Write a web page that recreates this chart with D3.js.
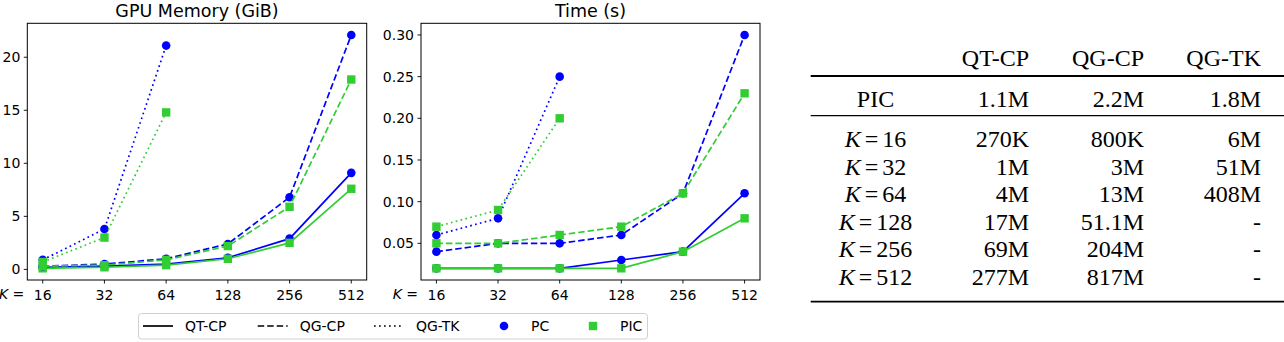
<!DOCTYPE html>
<html><head><meta charset="utf-8">
<script src="https://cdn.jsdelivr.net/npm/d3@7"></script>
<style>body{margin:0;background:#fff}svg{display:block}</style>
</head><body><svg id="c" width="1284" height="342"></svg>
<script>
// ---------- data ----------
const kLabels = ["16","32","64","128","256","512"];
const methods = ["QT-CP","QG-CP","QG-TK"];
const variants = ["PC","PIC"];

// GPU memory (GiB)
const memQTCP_PC  = [0.2, 0.3, 0.5, 1.1, 2.9, 9.1];
const memQTCP_PIC = [0.1, 0.2, 0.4, 1.0, 2.5, 7.6];
const memQGCP_PC  = [0.3, 0.5, 1.0, 2.4, 6.8, 22.1];
const memQGCP_PIC = [0.3, 0.4, 0.9, 2.2, 5.9, 17.9];
const memQGTK_PC  = [0.9, 3.8, 21.1];
const memQGTK_PIC = [0.7, 3.0, 14.8];

// Time (s)
const timeQTCP_PC  = [0.02, 0.02, 0.02, 0.03, 0.04, 0.11];
const timeQTCP_PIC = [0.02, 0.02, 0.02, 0.02, 0.04, 0.08];
const timeQGCP_PC  = [0.04, 0.05, 0.05, 0.06, 0.11, 0.30];
const timeQGCP_PIC = [0.05, 0.05, 0.06, 0.07, 0.11, 0.23];
const timeQGTK_PC  = [0.06, 0.08, 0.25];
const timeQGTK_PIC = [0.07, 0.09, 0.20];

const memTicks  = [0, 5, 10, 15, 20];
const timeTicks = [0.05, 0.10, 0.15, 0.20, 0.25, 0.30];

// table
const tableCols   = ["QT-CP","QG-CP","QG-TK"];
const tablePIC    = ["1.1M","2.2M","1.8M"];
const tableKs     = ["16","32","64","128","256","512"];
const tableQTCP   = ["270K","1M","4M","17M","69M","277M"];
const tableQGCP   = ["800K","3M","13M","51.1M","204M","817M"];
const tableQGTK   = ["6M","51M","408M","-","-","-"];

// ---------- styles ----------
const colors = {PC:"#0000ff", PIC:"#32cd32"};
const dashes = {"QT-CP":null, "QG-CP":"6.5,3", "QG-TK":"1.7,3.3"};
const lineW = 1.7;
const sans = "DejaVu Sans, sans-serif";
const serif = "Liberation Serif, Times New Roman, serif";
const tickFont = 14, titleFont = 17.5, legendFont = 14;

const svg = d3.select("#c");

function panel(opts){
  const {left,right,top,bottom,domain,ticks,fmt,title,series} = opts;
  const x = d3.scalePoint().domain(kLabels).range([left,right]).padding(0.25);
  const y = d3.scaleLinear().domain(domain).range([bottom,top]);
  const g = svg.append("g");
  g.append("text").attr("x",(left+right)/2).attr("y",17).attr("text-anchor","middle")
    .attr("font-family",sans).attr("font-size",titleFont).text(title);
  const sg = g.append("g");
  series.forEach(s=>{
    const pts = s.values.map((v,i)=>[x(kLabels[i]), y(v)]);
    sg.append("path").attr("d",d3.line()(pts)).attr("fill","none")
      .attr("stroke",colors[s.variant]).attr("stroke-width",lineW)
      .attr("stroke-dasharray",dashes[s.method]);
    if(s.variant==="PC"){
      sg.selectAll(null).data(pts).enter().append("circle")
        .attr("cx",d=>d[0]).attr("cy",d=>d[1]).attr("r",4.3).attr("fill",colors.PC);
    } else {
      sg.selectAll(null).data(pts).enter().append("rect")
        .attr("x",d=>d[0]-4.2).attr("y",d=>d[1]-4.2).attr("width",8.4).attr("height",8.4).attr("fill",colors.PIC);
    }
  });
  g.append("rect").attr("x",left).attr("y",top).attr("width",right-left).attr("height",bottom-top)
    .attr("fill","none").attr("stroke","#000").attr("stroke-width",1);
  ticks.forEach(t=>{
    g.append("line").attr("x1",left-3.5).attr("x2",left).attr("y1",y(t)).attr("y2",y(t))
      .attr("stroke","#000").attr("stroke-width",0.9);
    g.append("text").attr("x",left-7).attr("y",y(t)).attr("dy","0.36em").attr("text-anchor","end")
      .attr("font-family",sans).attr("font-size",tickFont).text(fmt(t));
  });
  kLabels.forEach(k=>{
    g.append("line").attr("x1",x(k)).attr("x2",x(k)).attr("y1",bottom).attr("y2",bottom+3.5)
      .attr("stroke","#000").attr("stroke-width",0.9);
    g.append("text").attr("x",x(k)).attr("y",bottom+20).attr("text-anchor","middle")
      .attr("font-family",sans).attr("font-size",tickFont).text(k);
  });
  const kt = g.append("text").attr("x",left-3).attr("y",bottom+19).attr("text-anchor","end")
    .attr("font-family",sans).attr("font-size",tickFont);
  kt.append("tspan").attr("font-style","italic").text("K");
  kt.append("tspan").text(" =");
}

function mk(method,variant,values){return {method,variant,values};}

panel({left:27.3,right:366.7,top:23.3,bottom:280,domain:[-1.0,23.2],ticks:memTicks,
  fmt:d3.format("d"),title:"GPU Memory (GiB)",series:[
  mk("QT-CP","PC",memQTCP_PC), mk("QT-CP","PIC",memQTCP_PIC),
  mk("QG-CP","PC",memQGCP_PC), mk("QG-CP","PIC",memQGCP_PIC),
  mk("QG-TK","PC",memQGTK_PC), mk("QG-TK","PIC",memQGTK_PIC)]});

panel({left:421,right:760,top:23.3,bottom:280,domain:[0.006,0.314],ticks:timeTicks,
  fmt:d3.format(".2f"),title:"Time (s)",series:[
  mk("QT-CP","PC",timeQTCP_PC), mk("QT-CP","PIC",timeQTCP_PIC),
  mk("QG-CP","PC",timeQGCP_PC), mk("QG-CP","PIC",timeQGCP_PIC),
  mk("QG-TK","PC",timeQGTK_PC), mk("QG-TK","PIC",timeQGTK_PIC)]});

// ---------- legend ----------
const lg = svg.append("g");
lg.append("rect").attr("x",138.5).attr("y",313.5).attr("width",509).attr("height",25.5).attr("rx",3)
  .attr("fill","#fff").attr("fill-opacity",0.8).attr("stroke","#d0d0d0").attr("stroke-width",1);
const legendItems = [
  {label:"QT-CP", type:"line", method:"QT-CP", x:143},
  {label:"QG-CP", type:"line", method:"QG-CP", x:257.7},
  {label:"QG-TK", type:"line", method:"QG-TK", x:374},
  {label:"PC", type:"PC", x:489},
  {label:"PIC", type:"PIC", x:578}];
const ly = 326;
legendItems.forEach(it=>{
  if(it.type==="line"){
    lg.append("line").attr("x1",it.x).attr("x2",it.x+30).attr("y1",ly).attr("y2",ly)
      .attr("stroke","#000").attr("stroke-width",lineW).attr("stroke-dasharray",dashes[it.method]);
  } else if(it.type==="PC"){
    lg.append("circle").attr("cx",it.x+15).attr("cy",ly).attr("r",4.3).attr("fill",colors.PC);
  } else {
    lg.append("rect").attr("x",it.x+10.8).attr("y",ly-4.2).attr("width",8.4).attr("height",8.4).attr("fill",colors.PIC);
  }
  lg.append("text").attr("x",it.x+42).attr("y",ly).attr("dy","0.36em")
    .attr("font-family",sans).attr("font-size",legendFont).text(it.label);
});

// ---------- table ----------
const tg = svg.append("g").attr("font-family",serif).attr("font-size",24);
const colRight = [1029, 1144, 1261];
const labelCenter = 875.5;
const ruleX1 = 810.7, ruleX2 = 1284;
tableCols.forEach((c,i)=>tg.append("text").attr("x",colRight[i]).attr("y",66).attr("text-anchor","end").text(c));
tg.append("line").attr("x1",ruleX1).attr("x2",ruleX2).attr("y1",76).attr("y2",76).attr("stroke","#000").attr("stroke-width",1.8);
tg.append("text").attr("x",labelCenter).attr("y",106.5).attr("text-anchor","middle").text("PIC");
tablePIC.forEach((v,i)=>tg.append("text").attr("x",colRight[i]).attr("y",106.5).attr("text-anchor","end").text(v));
tg.append("line").attr("x1",ruleX1).attr("x2",ruleX2).attr("y1",115.7).attr("y2",115.7).attr("stroke","#000").attr("stroke-width",1.3);
const cols = [tableQTCP, tableQGCP, tableQGTK];
tableKs.forEach((k,r)=>{
  const yy = 147 + r*27.5;
  const t = tg.append("text").attr("x",labelCenter).attr("y",yy).attr("text-anchor","middle");
  t.append("tspan").attr("font-style","italic").text("K");
  t.append("tspan").attr("dx",4).text("=");
  t.append("tspan").attr("dx",4).text(k);
  cols.forEach((col,i)=>tg.append("text").attr("x",colRight[i]).attr("y",yy).attr("text-anchor","end").text(col[r]));
});
tg.append("line").attr("x1",ruleX1).attr("x2",ruleX2).attr("y1",301.7).attr("y2",301.7).attr("stroke","#000").attr("stroke-width",1.8);
</script></body></html>
